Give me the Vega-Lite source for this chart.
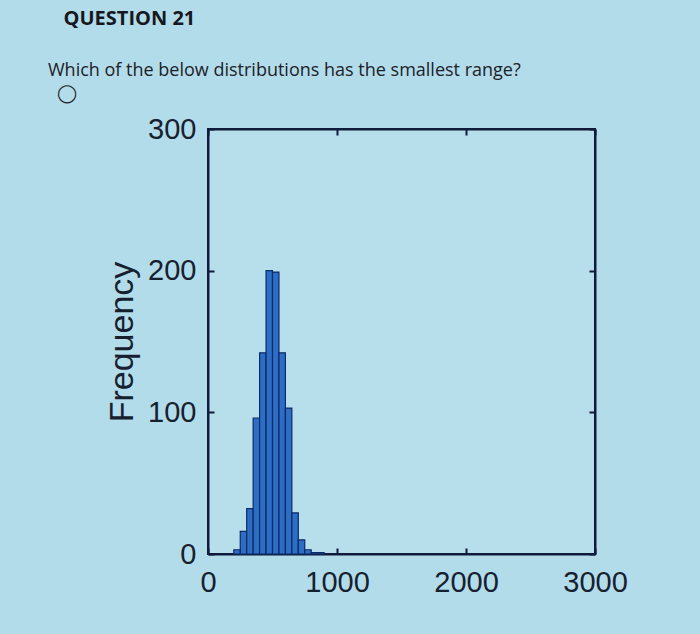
{
  "$schema": "https://vega.github.io/schema/vega-lite/v6.json",
  "autosize": "none",
  "width": 387,
  "height": 425,
  "padding": {"left": 208, "top": 129, "right": 105, "bottom": 80},
  "background": "#b3dcea",
  "title": {
    "text": "\u200b\u00a0\u00a0\u00a0QUESTION 21",
    "subtitle": ["Which of the below distributions has the smallest range?", "\u200b\u00a0\u00a0◯"],
    "anchor": "start",
    "frame": "group",
    "dx": -160,
    "offset": 12,
    "font": "Open Sans",
    "fontSize": 20,
    "fontWeight": "bold",
    "color": "#15191f",
    "subtitleFont": "Open Sans",
    "subtitleFontSize": 18,
    "subtitleColor": "#1c2128",
    "subtitleLineHeight": 23,
    "subtitlePadding": 33
  },
  "data": {
    "values": [
      {"bin_start": 200, "bin_end": 250, "count": 3},
      {"bin_start": 250, "bin_end": 300, "count": 16},
      {"bin_start": 300, "bin_end": 350, "count": 32},
      {"bin_start": 350, "bin_end": 400, "count": 96},
      {"bin_start": 400, "bin_end": 450, "count": 142},
      {"bin_start": 450, "bin_end": 500, "count": 200},
      {"bin_start": 500, "bin_end": 550, "count": 199},
      {"bin_start": 550, "bin_end": 600, "count": 142},
      {"bin_start": 600, "bin_end": 650, "count": 103},
      {"bin_start": 650, "bin_end": 700, "count": 29},
      {"bin_start": 700, "bin_end": 750, "count": 10},
      {"bin_start": 750, "bin_end": 800, "count": 3},
      {"bin_start": 800, "bin_end": 850, "count": 1},
      {"bin_start": 850, "bin_end": 900, "count": 1}
    ]
  },
  "config": {
    "view": {"stroke": "#101a3a", "strokeWidth": 2, "fill": "#b6deeb"},
    "axis": {
      "grid": false,
      "domainColor": "#101a3a",
      "domainWidth": 2,
      "tickColor": "#101a3a",
      "tickWidth": 2,
      "labelFont": "Liberation Sans",
      "labelFontSize": 29,
      "labelColor": "#16202e",
      "titleFont": "Liberation Sans",
      "titleFontWeight": "normal",
      "titleFontSize": 34,
      "titleColor": "#16202e"
    }
  },
  "resolve": {"axis": {"x": "independent", "y": "independent"}},
  "layer": [
    {
      "mark": {"type": "bar", "fill": "#2d6ec4", "stroke": "#0c2a66", "strokeWidth": 1.2},
      "encoding": {
        "x": {
          "field": "bin_start",
          "type": "quantitative",
          "scale": {"domain": [0, 3000], "nice": false},
          "axis": {
            "values": [0, 1000, 2000, 3000],
            "format": "d",
            "tickSize": -6,
            "labelPadding": 20,
            "title": null,
            "labelFlush": false
          }
        },
        "x2": {"field": "bin_end"},
        "y": {
          "field": "count",
          "type": "quantitative",
          "scale": {"domain": [0, 300], "nice": false},
          "axis": {
            "values": [0, 100, 200, 300],
            "format": "d",
            "tickSize": -6,
            "labelPadding": 18,
            "title": "Frequency",
            "titlePadding": 8
          }
        },
        "y2": {"datum": 0}
      }
    },
    {
      "mark": {"type": "bar", "opacity": 0},
      "encoding": {
        "x": {
          "field": "bin_start",
          "type": "quantitative",
          "axis": {
            "orient": "top",
            "values": [0, 1000, 2000, 3000],
            "tickSize": -6,
            "labels": false,
            "title": null
          }
        },
        "x2": {"field": "bin_end"},
        "y": {
          "field": "count",
          "type": "quantitative",
          "axis": {
            "orient": "right",
            "values": [0, 100, 200, 300],
            "tickSize": -6,
            "labels": false,
            "title": null
          }
        },
        "y2": {"datum": 0}
      }
    }
  ]
}
